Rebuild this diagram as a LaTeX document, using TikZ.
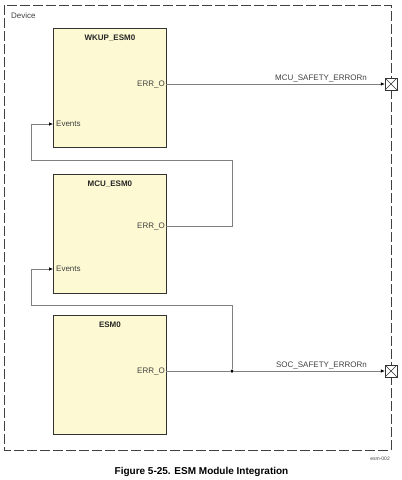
\documentclass[tikz,border=0pt]{standalone}
\usepackage{fontspec}
\setmainfont{Liberation Sans}
\usetikzlibrary{arrows.meta}
\usetikzlibrary{positioning}
\definecolor{blockfill}{HTML}{FDF9D3}
\definecolor{wiregray}{HTML}{808080}
\definecolor{textgray}{HTML}{404040}

\begin{document}
\begin{tikzpicture}[x=1pt,y=-1pt,
	block/.style={draw=black!80, line width=0.8pt, fill=blockfill, minimum width=113pt,
	              minimum height=119pt, anchor=north west, inner sep=0pt},
	title/.style={font=\bfseries\fontsize{8}{9}\selectfont, text=black!85},
	port/.style={font=\fontsize{8}{9}\selectfont, text=textgray, inner sep=1pt},
	signal/.style={port, anchor=south east},
	wire/.style={draw=wiregray, line width=0.6pt},
	tip/.style={-{Latex[length=4pt,width=3.5pt,black]}},
	pad/.style={draw=black!80, fill=white, minimum size=12pt, inner sep=0pt,
	            path picture={\draw[black!80]
	              (path picture bounding box.north west) -- (path picture bounding box.south east)
	              (path picture bounding box.north east) -- (path picture bounding box.south west);}},
	dot/.style={circle, fill=black, inner sep=0pt, minimum size=3.5pt}]
	\useasboundingbox (0,0) rectangle (402,480);

	% device boundary
	\draw[black!75, line width=0.8pt, dash pattern=on 10pt off 3pt] (4,5) rectangle (391,450);
	\node[port, anchor=west] (device) at (10,16) {Device};

	% ESM blocks
	\node[block] (wkup) at (53,28) {};
	\node[block] (mcu) at (53,174) {};
	\node[block] (esm) at (53,315) {};
	\node[title] at ([yshift=-10pt]wkup.north) {WKUP\_ESM0};
	\node[title] at ([yshift=-10pt]mcu.north) {MCU\_ESM0};
	\node[title] at ([yshift=-10pt]esm.north) {ESM0};

	% ports
	\coordinate (wkup-err) at (166,84);
	\coordinate (wkup-ev) at (53,124);
	\coordinate (mcu-err) at (166,226);
	\coordinate (mcu-ev) at (53,269);
	\coordinate (esm-err) at (166,371);
	\begin{scope}[every node/.style={port}]
		\node[anchor=east] at (wkup-err) {ERR\_O};
		\node[anchor=west] at ([xshift=2pt]wkup-ev) {Events};
		\node[anchor=east] at (mcu-err) {ERR\_O};
		\node[anchor=west] at ([xshift=2pt]mcu-ev) {Events};
		\node[anchor=east] at (esm-err) {ERR\_O};
	\end{scope}

	% feedback corners
	\coordinate (fb1) at (232,160);
	\coordinate (fb2) at (31,160);
	\coordinate (fb3) at (31,305);
	\node[dot] (junc) at (232,371) {};

	% pads
	\node[pad] (mcupad) at (391,84) {};
	\node[pad] (socpad) at (391,371) {};

	% connections
	\draw[wire, tip] (wkup-err) -- (mcupad.west);
	\draw[wire, tip] (junc) -- (socpad.west);
	\draw[wire] (esm-err) -- (junc);
	\draw[wire, tip] (mcu-err) -| (fb1) -- (fb2) |- (wkup-ev);
	\draw[wire, tip] (junc) |- (fb3) |- (mcu-ev);

	% signal names
	\node[signal] at (368,83) {MCU\_SAFETY\_ERRORn};
	\node[signal] at (368,370) {SOC\_SAFETY\_ERRORn};
	\node[port, anchor=east, font=\fontsize{5}{6}\selectfont] (tag) at (391,459) {esm-002};

	% caption
	\node[font=\bfseries\fontsize{10}{12}\selectfont] (caption) at (201.5,472) {Figure 5-25. ESM Module Integration};
\end{tikzpicture}
\end{document}
